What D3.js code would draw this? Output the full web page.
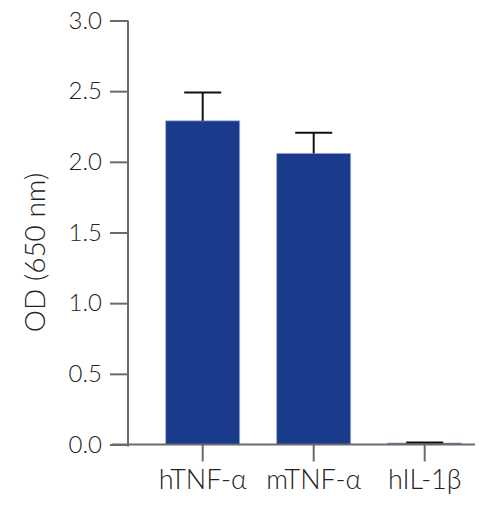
<!DOCTYPE html>
<html>
<head>
  <style>
    body { margin: 0; background: #fff; }
    text { font-family: Lato, sans-serif; }
  </style>
</head>
<body>
<script src="https://d3js.org/d3.v7.min.js"></script>
<script>
  // data
  var categories = ["hTNF-\u03b1", "mTNF-\u03b1", "hIL-1\u03b2"];
  var means = [2.29, 2.06, 0.01];
  var errors = [0.20, 0.145, 0.005];
  var yTicks = [0, 0.5, 1.0, 1.5, 2.0, 2.5, 3.0];

  var width = 500, height = 524;

  var svg = d3.select("body").append("svg")
    .attr("width", width)
    .attr("height", height);

  var x = d3.scaleBand()
    .domain(categories)
    .range([147.2, 480.2])
    .paddingInner(1 / 3)
    .paddingOuter(1 / 6);

  var y = d3.scaleLinear()
    .domain([0, 3])
    .range([444.5, 20.5]);

  var axisColor = "#6b6b6b";

  // bars
  svg.selectAll("rect.bar")
    .data(means)
    .enter()
    .append("rect")
    .attr("class", "bar")
    .attr("x", function(d, i) { return x(categories[i]); })
    .attr("y", function(d) { return y(d); })
    .attr("width", x.bandwidth())
    .attr("height", function(d) { return y(0) - y(d); })
    .attr("fill", "#1a3a8c")
    .attr("stroke", "#9aaad6")
    .attr("stroke-width", 0.8);

  // error bars
  var capHalf = 18.5;
  var err = svg.append("g")
    .attr("stroke", "#111")
    .attr("stroke-width", 2);

  err.selectAll("line.stem")
    .data(means)
    .enter()
    .append("line")
    .attr("x1", function(d, i) { return x(categories[i]) + x.bandwidth() / 2; })
    .attr("x2", function(d, i) { return x(categories[i]) + x.bandwidth() / 2; })
    .attr("y1", function(d) { return y(d); })
    .attr("y2", function(d, i) { return y(d + errors[i]); });

  err.selectAll("line.cap")
    .data(means)
    .enter()
    .append("line")
    .attr("x1", function(d, i) { return x(categories[i]) + x.bandwidth() / 2 - capHalf; })
    .attr("x2", function(d, i) { return x(categories[i]) + x.bandwidth() / 2 + capHalf; })
    .attr("y1", function(d, i) { return y(d + errors[i]); })
    .attr("y2", function(d, i) { return y(d + errors[i]); });

  // y axis
  var yAxis = d3.axisLeft(y)
    .tickValues(yTicks)
    .tickFormat(d3.format(".1f"))
    .tickSize(18)
    .tickPadding(8);

  var gy = svg.append("g")
    .attr("transform", "translate(128,0)")
    .call(yAxis);

  gy.select(".domain").remove();
  gy.append("line")
    .attr("x1", 0).attr("x2", 0)
    .attr("y1", y(3)).attr("y2", y(0) + 2)
    .attr("stroke", axisColor)
    .attr("stroke-width", 2);
  gy.selectAll(".tick line")
    .attr("stroke", axisColor)
    .attr("stroke-width", 2);
  gy.selectAll(".tick text")
    .attr("fill", "#222")
    .attr("font-size", 24)
    .attr("font-weight", 300)
    .attr("font-family", "Lato, sans-serif");

  // x axis
  var xAxis = d3.axisBottom(x)
    .tickSize(17)
    .tickPadding(8);

  var gx = svg.append("g")
    .attr("transform", "translate(0," + y(0) + ")")
    .call(xAxis);

  gx.select(".domain").remove();
  gx.append("line")
    .attr("x1", 112).attr("x2", 475)
    .attr("y1", 0).attr("y2", 0)
    .attr("stroke", axisColor)
    .attr("stroke-width", 2);
  gx.selectAll(".tick line")
    .attr("stroke", axisColor)
    .attr("stroke-width", 2);
  gx.selectAll(".tick text")
    .attr("fill", "#222")
    .attr("font-size", 27)
    .attr("font-weight", 300)
    .attr("font-family", "Lato, sans-serif");

  // y title
  svg.append("text")
    .attr("transform", "translate(45,252.5) rotate(-90)")
    .attr("text-anchor", "middle")
    .attr("fill", "#222")
    .attr("font-size", 28)
    .attr("font-weight", 300)
    .text("OD (650 nm)");
</script>
</body>
</html>
